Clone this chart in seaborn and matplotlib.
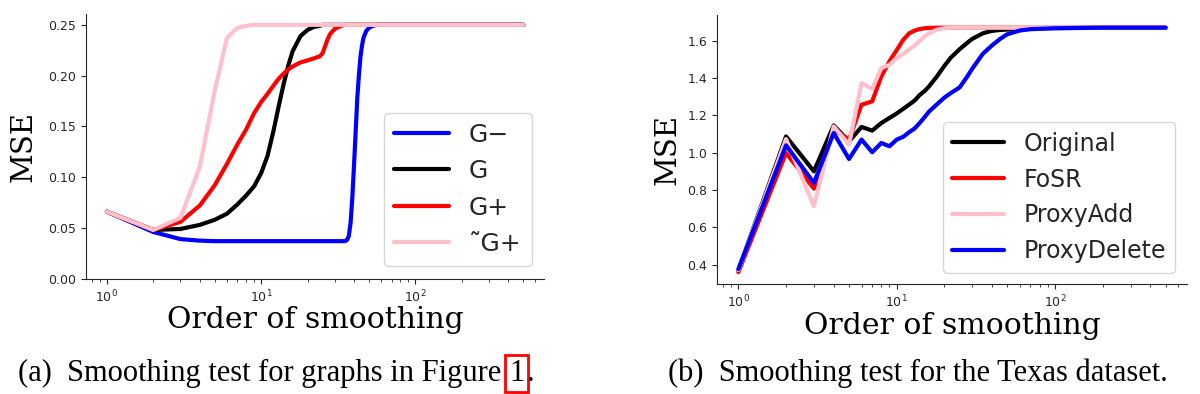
import matplotlib
matplotlib.use("Agg")
import matplotlib.pyplot as plt
import seaborn as sns

sns.set_style("ticks")
plt.rcParams["font.family"] = ["DejaVu Sans"]

# ---------------- Panel (a) data ----------------
order_a = [1, 2, 3, 4, 5, 6, 7, 8, 9, 10, 11, 12, 13, 14, 15, 16, 18, 20, 22, 24, 25, 26, 27, 28,
           30, 33, 35, 36, 37, 38, 39, 40, 41, 42, 43, 44, 45, 46, 48, 50, 53, 56, 60, 100, 200, 500]
g_minus = [0.066, 0.046, 0.039, 0.0375, 0.037, 0.037, 0.037, 0.037, 0.037, 0.037, 0.037, 0.037,
           0.037, 0.037, 0.037, 0.037, 0.037, 0.037, 0.037, 0.037, 0.037, 0.037, 0.037, 0.037,
           0.037, 0.037, 0.037, 0.038, 0.042, 0.055, 0.080, 0.112, 0.145, 0.178, 0.200, 0.218,
           0.229, 0.237, 0.244, 0.247, 0.249, 0.25, 0.25, 0.25, 0.25, 0.25]
g_orig = [0.066, 0.048, 0.049, 0.053, 0.058, 0.064, 0.073, 0.082, 0.091, 0.104, 0.121, 0.145,
          0.170, 0.192, 0.210, 0.224, 0.239, 0.245, 0.248, 0.249, 0.25, 0.25, 0.25, 0.25,
          0.25, 0.25, 0.25, 0.25, 0.25, 0.25, 0.25, 0.25, 0.25, 0.25, 0.25, 0.25,
          0.25, 0.25, 0.25, 0.25, 0.25, 0.25, 0.25, 0.25, 0.25, 0.25]
g_plus = [0.066, 0.048, 0.056, 0.072, 0.092, 0.113, 0.132, 0.147, 0.163, 0.174, 0.182, 0.190,
          0.197, 0.202, 0.206, 0.209, 0.213, 0.215, 0.217, 0.219, 0.222, 0.229, 0.236, 0.241,
          0.246, 0.249, 0.25, 0.25, 0.25, 0.25, 0.25, 0.25, 0.25, 0.25, 0.25, 0.25,
          0.25, 0.25, 0.25, 0.25, 0.25, 0.25, 0.25, 0.25, 0.25, 0.25]
g_tilde_plus = [0.066, 0.048, 0.060, 0.110, 0.185, 0.237, 0.247, 0.249, 0.25, 0.25, 0.25, 0.25,
                0.25, 0.25, 0.25, 0.25, 0.25, 0.25, 0.25, 0.25, 0.25, 0.25, 0.25, 0.25,
                0.25, 0.25, 0.25, 0.25, 0.25, 0.25, 0.25, 0.25, 0.25, 0.25, 0.25, 0.25,
                0.25, 0.25, 0.25, 0.25, 0.25, 0.25, 0.25, 0.25, 0.25, 0.25]
labels_a = ["G\u2212", "G", "G+", "\u02dcG+"]
colors_a = ["#0000ff", "#000000", "#ff0000", "#ffc0cb"]

# ---------------- Panel (b) data ----------------
order_b = [1, 2, 3, 4, 5, 6, 7, 8, 9, 10, 11, 12, 13, 14, 15, 16, 18, 20, 22, 25, 28, 30,
           35, 40, 45, 50, 60, 70, 100, 200, 500]
original = [0.37, 1.087, 0.90, 1.146, 1.06, 1.138, 1.118, 1.159, 1.186, 1.21, 1.235, 1.258,
            1.28, 1.31, 1.33, 1.355, 1.41, 1.465, 1.51, 1.555, 1.59, 1.61, 1.64, 1.653,
            1.658, 1.66, 1.665, 1.667, 1.668, 1.67, 1.67]
fosr = [0.359, 0.998, 0.807, 1.123, 1.07, 1.257, 1.275, 1.409, 1.49, 1.55, 1.605, 1.64,
        1.655, 1.663, 1.667, 1.669, 1.67, 1.67, 1.67, 1.67, 1.67, 1.67, 1.67, 1.67,
        1.67, 1.67, 1.67, 1.67, 1.67, 1.67, 1.67]
proxy_add = [0.37, 1.073, 0.712, 1.141, 1.043, 1.373, 1.341, 1.454, 1.471, 1.507, 1.53, 1.553,
             1.575, 1.60, 1.623, 1.64, 1.66, 1.667, 1.67, 1.67, 1.67, 1.67, 1.67, 1.67,
             1.67, 1.67, 1.67, 1.67, 1.67, 1.67, 1.67]
proxy_delete = [0.375, 1.039, 0.838, 1.105, 0.966, 1.07, 1.002, 1.052, 1.034, 1.07, 1.085, 1.11,
                1.13, 1.16, 1.19, 1.22, 1.26, 1.295, 1.32, 1.35, 1.41, 1.45, 1.53, 1.575,
                1.61, 1.635, 1.655, 1.662, 1.667, 1.67, 1.67]
labels_b = ["Original", "FoSR", "ProxyAdd", "ProxyDelete"]
colors_b = ["#000000", "#ff0000", "#ffc0cb", "#0000ff"]

captions = ["(a)  Smoothing test for graphs in Figure ", "(b)  Smoothing test for the Texas dataset."]

fig = plt.figure(figsize=(12, 3.94), dpi=100)
ax1 = fig.add_axes([0.0717, 0.2926, 0.3817, 0.6718])
ax2 = fig.add_axes([0.5975, 0.2782, 0.3917, 0.6825])

for ys, lab, col in zip([g_minus, g_orig, g_plus, g_tilde_plus], labels_a, colors_a):
    sns.lineplot(x=order_a, y=ys, ax=ax1, color=col, linewidth=3, label=lab)
for ys, lab, col in zip([original, fosr, proxy_add, proxy_delete], labels_b, colors_b):
    sns.lineplot(x=order_b, y=ys, ax=ax2, color=col, linewidth=3, label=lab)

for ax, fs, hl, lp in ((ax1, 18, 2.2, 8), (ax2, 17, 2.2, 4)):
    ax.set_xscale("log")
    ax.tick_params(axis="both", which="both", labelsize=9, colors=".15")
    ax.set_xlabel("Order of smoothing", fontfamily="DejaVu Serif", fontsize=21.5, labelpad=1, color="black")
    ax.set_ylabel("MSE", fontfamily="DejaVu Serif", fontsize=21, labelpad=lp, color="black")
    ax.legend(loc="lower right", fontsize=fs, handlelength=hl)
    sns.despine(ax=ax)

ax1.set_ylim(bottom=0)
ax1.set_yticks([0.0, 0.05, 0.10, 0.15, 0.20, 0.25])
ax2.set_yticks([0.4, 0.6, 0.8, 1.0, 1.2, 1.4, 1.6])

# captions
fig.canvas.draw()
r = fig.canvas.get_renderer()
W = fig.bbox.width
cap_kw = dict(fontfamily="Liberation Serif", fontsize=22, ha="left", va="baseline", color="black")
yb = 0.033
t1 = fig.text(18 / W, yb, captions[0], **cap_kw)
bb = t1.get_window_extent(r)
t2 = fig.text(bb.x1 / W, yb, "1", bbox=dict(boxstyle="square,pad=0.12", fc="none", ec="red", lw=2), **cap_kw)
bb2 = t2.get_window_extent(r)
fig.text(bb2.x1 / W + 3 / W, yb, ".", **cap_kw)
fig.text(668 / W, yb, captions[1], **cap_kw)

fig.savefig("out.png", dpi=100)
